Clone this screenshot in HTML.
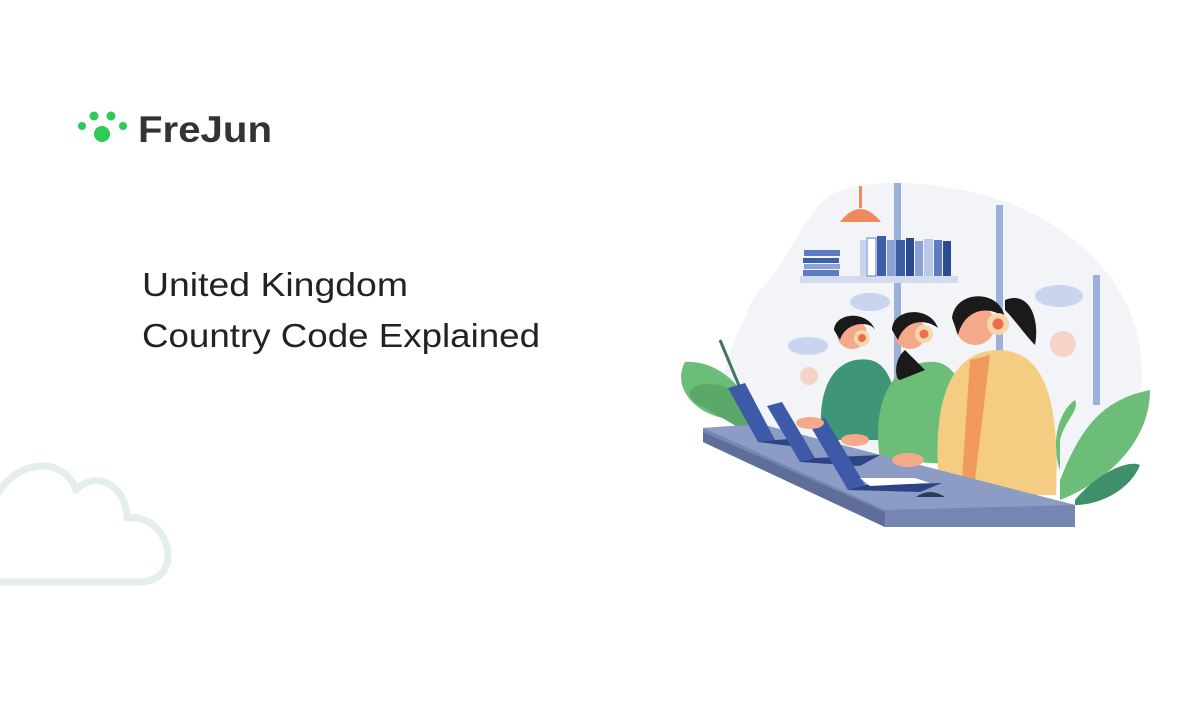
<!DOCTYPE html>
<html><head><meta charset="utf-8"><style>
html,body{margin:0;padding:0;background:#fff;width:1200px;height:720px;overflow:hidden;font-family:"Liberation Sans",sans-serif}
</style></head><body>
<svg width="1200" height="720" viewBox="0 0 1200 720" xmlns="http://www.w3.org/2000/svg">
<!-- logo -->
<g fill="#2fcb58">
<circle cx="82" cy="126" r="4"/><circle cx="94" cy="116" r="4.5"/><circle cx="111" cy="116" r="4.5"/><circle cx="123" cy="126" r="4"/><circle cx="102" cy="134" r="8"/>
</g>
<text x="138" y="142" font-family="Liberation Sans, sans-serif" font-weight="bold" font-size="37" fill="#333" textLength="134" lengthAdjust="spacingAndGlyphs">FreJun</text>
<!-- title -->
<text x="142" y="296" font-size="33" fill="#222" textLength="266" lengthAdjust="spacingAndGlyphs">United Kingdom</text>
<text x="142" y="347" font-size="33" fill="#222" textLength="398" lengthAdjust="spacingAndGlyphs">Country Code Explained</text>
<!-- cloud -->
<path d="M-5,500 C10,462 62,452 76,490 C95,470 126,484 127,518 C168,512 188,580 140,582 L-5,582" fill="none" stroke="#e3efe7" stroke-width="7" stroke-linejoin="round"/>
<!-- illustration background blob -->
<path d="M760,290 C790,260 800,220 830,195 C880,170 1000,185 1060,230 C1120,270 1150,330 1140,400 C1130,450 1090,470 1060,470 L760,440 C720,430 715,380 735,340 C745,320 750,300 760,290Z" fill="#f3f4f8"/>
<!-- window pillars -->
<rect x="894" y="183" width="7" height="220" fill="#9bb1da"/>
<rect x="996" y="205" width="7" height="200" fill="#9bb1da"/>
<rect x="1093" y="275" width="7" height="130" fill="#9bb1da"/>
<!-- lamp -->
<rect x="859" y="186" width="3" height="22" fill="#f08a5d"/>
<path d="M840,222 Q860,196 881,222Z" fill="#f08a5d"/>
<!-- shelf -->
<rect x="800" y="276" width="158" height="7" fill="#d3dcef"/>
<rect x="804" y="250" width="36" height="6" fill="#5b7cc0"/>
<rect x="803" y="258" width="36" height="5" fill="#3d5fa6"/>
<rect x="804" y="264" width="36" height="5" fill="#8aa2d6"/>
<rect x="803" y="270" width="36" height="6" fill="#5b7cc0"/>
<rect x="860" y="240" width="6" height="36" fill="#c9d4ee"/>
<rect x="867" y="238" width="9" height="38" fill="#fff" stroke="#5b7cc0"/>
<rect x="877" y="236" width="9" height="40" fill="#3d5fa6"/>
<rect x="887" y="240" width="8" height="36" fill="#8aa2d6"/>
<rect x="896" y="240" width="9" height="36" fill="#3d5fa6"/>
<rect x="906" y="238" width="8" height="38" fill="#2c4a8f"/>
<rect x="915" y="241" width="8" height="35" fill="#8aa2d6"/>
<rect x="924" y="239" width="9" height="37" fill="#b9c7e8"/>
<rect x="934" y="240" width="8" height="36" fill="#5b7cc0"/>
<rect x="943" y="241" width="8" height="35" fill="#2c4a8f"/>
<!-- speech bubbles -->
<ellipse cx="870" cy="302" rx="20" ry="9" fill="#c9d4ee"/>
<ellipse cx="808" cy="346" rx="20" ry="9" fill="#c9d4ee"/>
<ellipse cx="1059" cy="296" rx="24" ry="11" fill="#c9d4ee"/>
<circle cx="809" cy="376" r="9" fill="#f6d3c8"/>
<circle cx="1063" cy="344" r="13" fill="#f6d3c8"/>
<!-- plants -->
<path d="M740,420 C700,420 670,390 685,362 C720,360 750,390 760,430Z" fill="#6bbd78"/>
<path d="M700,405 C680,395 690,380 720,385 C745,392 760,420 760,440Z" fill="#5aa86a"/>
<path d="M745,400 L720,340" stroke="#3e7a5a" stroke-width="3"/>
<path d="M1060,480 C1080,430 1100,400 1150,390 C1150,440 1110,480 1060,500Z" fill="#6bbd78"/>
<path d="M1060,440 C1065,420 1080,410 1075,400 C1060,410 1050,440 1060,470Z" fill="#6bbd78"/>
<path d="M1075,500 C1100,470 1130,460 1140,465 C1130,490 1100,505 1075,505Z" fill="#3e8f6a"/>
<!-- back woman -->
<path d="M822,440 C815,380 840,355 870,360 C895,365 900,410 895,440Z" fill="#3f9676"/>
<circle cx="852" cy="334" r="15" fill="#f4a98b"/>
<path d="M834,330 C835,312 868,310 875,330 C870,320 845,322 840,340Z" fill="#1a1a1a"/>
<circle cx="862" cy="338" r="8" fill="#f5d7a9"/><circle cx="862" cy="338" r="4" fill="#ef6d4c"/>
<!-- middle woman -->
<path d="M880,460 C870,390 900,360 935,362 C965,365 975,420 965,465Z" fill="#6bbd78"/>
<path d="M905,350 C893,360 895,380 900,380 L925,370Z" fill="#1a1a1a"/>
<circle cx="910" cy="333" r="16" fill="#f4a98b"/>
<path d="M892,330 C892,308 930,305 938,328 C925,318 905,320 898,340Z" fill="#1a1a1a"/>
<circle cx="924" cy="334" r="9" fill="#f5d7a9"/><circle cx="924" cy="334" r="4.5" fill="#ef6d4c"/>
<!-- front woman -->
<path d="M940,495 C930,400 950,350 1000,350 C1045,352 1060,400 1056,495Z" fill="#f5cd82"/>
<path d="M970,360 L990,355 L975,480 L962,480Z" fill="#f09a5e"/>
<path d="M1005,300 C1030,290 1040,320 1035,345 C1025,335 1015,320 1005,310Z" fill="#1a1a1a"/>
<circle cx="975" cy="325" r="20" fill="#f4a98b"/>
<path d="M952,318 C955,290 1000,288 1005,318 C990,305 965,308 958,335Z" fill="#1a1a1a"/>
<circle cx="998" cy="324" r="11" fill="#f5d7a9"/><circle cx="998" cy="324" r="5.5" fill="#ef6d4c"/>
<!-- desk -->
<path d="M703,428 L760,424 L1075,505 L1075,527 L885,527 L703,442Z" fill="#7486b1"/>
<path d="M703,428 L760,424 L1075,505 L885,510 Z" fill="#8c9cc4"/>
<path d="M703,432 L885,512 L885,527 L703,442Z" fill="#5e6e98"/>
<!-- laptops -->
<path d="M728,388 L745,383 L775,440 L758,442Z" fill="#3d5aa8"/>
<path d="M758,442 L775,440 L805,438 L790,446Z" fill="#2c4385"/>
<path d="M767,406 L782,402 L815,458 L800,462Z" fill="#3d5aa8"/>
<path d="M800,462 L815,458 L880,455 L860,466Z" fill="#2c4385"/>
<path d="M808,422 L825,418 L865,485 L848,490Z" fill="#3d5aa8"/>
<path d="M848,490 L865,485 L942,483 L920,492Z" fill="#2c4385"/>
<path d="M860,478 L915,478 L930,483 L870,486Z" fill="#fff"/>
<!-- hands -->
<ellipse cx="810" cy="423" rx="14" ry="6" fill="#f4a98b"/>
<ellipse cx="855" cy="440" rx="14" ry="6" fill="#f4a98b"/>
<ellipse cx="908" cy="460" rx="16" ry="7" fill="#f4a98b"/>
<path d="M916,497 Q930,487 945,497Z" fill="#2a3a60"/>
</svg>
</body></html>
